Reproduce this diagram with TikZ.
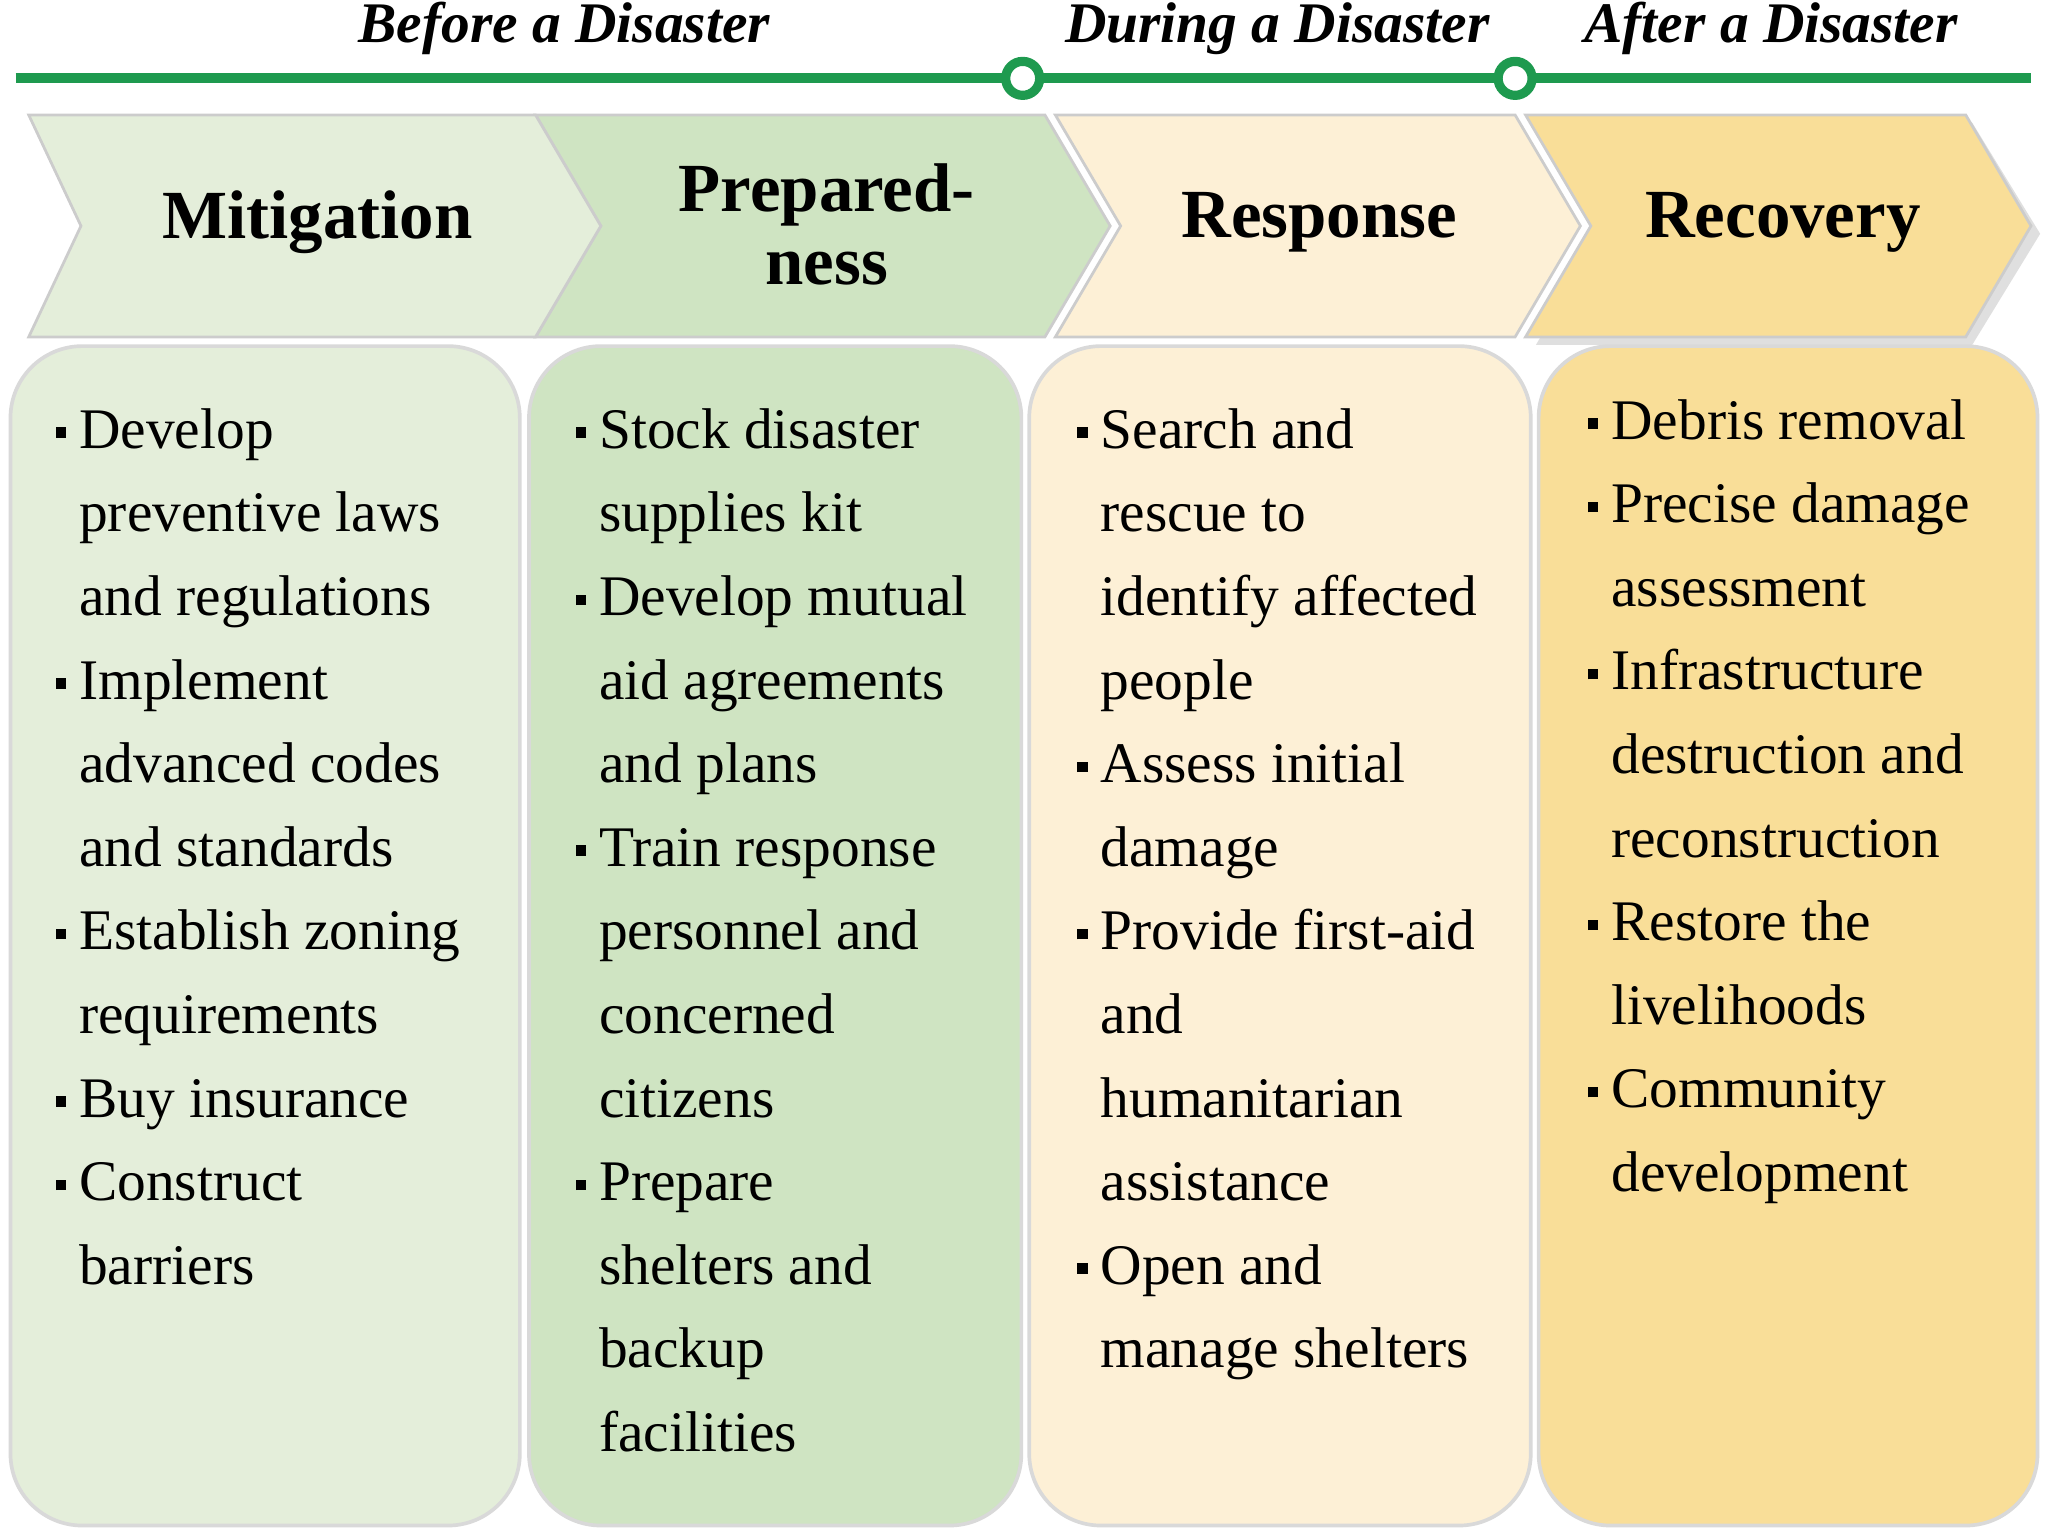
\documentclass[tikz,border=0pt]{standalone}
\usepackage{fontspec}
\setmainfont{Liberation Serif}
\definecolor{lineg}{HTML}{1E9A4F}
\definecolor{c1}{HTML}{E4EEDA}
\definecolor{c2}{HTML}{CFE4C2}
\definecolor{c3}{HTML}{FDF0D6}
\definecolor{c4}{HTML}{F9DE98}
\newcommand{\bul}{\llap{\rule[0.08cm]{0.08cm}{0.08cm}\hspace{0.1cm}}}
\tikzset{
 chev/.style={draw=gray!40,line width=0.6pt},
 box/.style={draw=gray!30,line width=0.8pt,rounded corners=0.55cm},
 ttl/.style={font=\fontsize{15pt}{16pt}\selectfont\bfseries,align=center},
 hdr/.style={font=\fontsize{12.5pt}{14pt}\selectfont\bfseries\itshape},
 lst/.style={anchor=north west,inner sep=0pt,align=left,font=\fontsize{12.5pt}{18.2pt}\selectfont}
}
\begin{document}
\begin{tikzpicture}[x=0.01cm,y=-0.01cm]
\useasboundingbox (0,0) rectangle (1568,1176);
\fill[white] (0,0) rectangle (1568,1176);
% timeline
\draw[lineg,line width=2.2pt] (12,60) -- (1555,60);
\node[circle,draw=lineg,line width=2pt,fill=white,minimum size=0.26cm,inner sep=0pt] (p1) at (783,60) {};
\node[circle,draw=lineg,line width=2pt,fill=white,minimum size=0.26cm,inner sep=0pt] (p2) at (1160,60) {};
\node[hdr] (h1) at (432,22) {Before a Disaster};
\node[hdr] (h2) at (978,22) {During a Disaster};
\node[hdr] (h3) at (1356,22) {After a Disaster};
% chevrons
\fill[gray!25] (1176,94)--(1510,94)--(1562,179)--(1510,264)--(1176,264)--(1226,179)--cycle;
\draw[chev,fill=c4] (1168,88)--(1505,88)--(1555,173)--(1505,258)--(1168,258)--(1218,173)--cycle;
\draw[chev,fill=c3] (808,88)--(1160,88)--(1210,173)--(1160,258)--(808,258)--(858,173)--cycle;
\draw[chev,fill=c2] (410,88)--(800,88)--(850,173)--(800,258)--(410,258)--(460,173)--cycle;
\draw[chev,fill=c1] (22,88)--(410,88)--(460,173)--(410,258)--(22,258)--(62,173)--cycle;
\node[ttl] (t1) at (243,170) {Mitigation};
\node[ttl] (t2) at (633,172) {Prepared-\\ness};
\node[ttl] (t3) at (1010,170) {Response};
\node[ttl] (t4) at (1365,170) {Recovery};
% boxes
\draw[box,fill=c1] (8,265) rectangle (398,1168);
\draw[box,fill=c2] (405,265) rectangle (782,1168);
\draw[box,fill=c3] (788,265) rectangle (1172,1168);
\draw[box,fill=c4] (1178,265) rectangle (1560,1168);
\node[lst] (l1) at (60,312) {\bul Develop\\preventive laws\\and regulations\\\bul Implement\\advanced codes\\and standards\\\bul Establish zoning\\requirements\\\bul Buy insurance\\\bul Construct\\barriers};
\node[lst] (l2) at (458,312) {\bul Stock disaster\\supplies kit\\\bul Develop mutual\\aid agreements\\and plans\\\bul Train response\\personnel and\\concerned\\citizens\\\bul Prepare\\shelters and\\backup\\facilities};
\node[lst] (l3) at (842,312) {\bul Search and\\rescue to\\identify affected\\people\\\bul Assess initial\\damage\\\bul Provide first-aid\\and\\humanitarian\\assistance\\\bul Open and\\manage shelters};
\node[lst] (l4) at (1233,305) {\bul Debris removal\\\bul Precise damage\\assessment\\\bul Infrastructure\\destruction and\\reconstruction\\\bul Restore the\\livelihoods\\\bul Community\\development};
\end{tikzpicture}
\end{document}
